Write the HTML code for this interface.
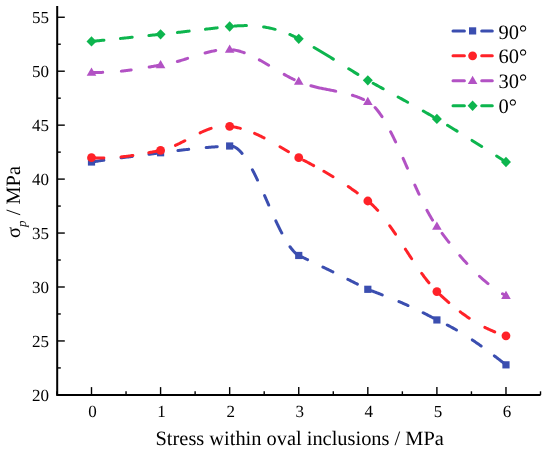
<!DOCTYPE html>
<html><head><meta charset="utf-8"><style>
html,body{margin:0;padding:0;background:#fff;}
body{width:550px;height:454px;overflow:hidden;}
svg{display:block;will-change:transform;}
text{font-family:"Liberation Serif",serif;fill:#000;text-rendering:geometricPrecision;}
.tl{font-size:17px;}
.lg{font-size:20.5px;}
.ti{font-size:20.4px;}
.sub{font-style:italic;font-size:13px;}
</style></head><body>
<svg width="550" height="454" viewBox="0 0 550 454">
<rect width="550" height="454" fill="#fff"/>
<path d="M91.50,162.00 L92.45,161.86 L93.40,161.71 L94.35,161.57 L95.30,161.43 L96.25,161.29 L97.21,161.15 L98.16,161.01 L99.11,160.87 L100.06,160.73 L101.01,160.60 L101.96,160.46 L102.92,160.33 L103.87,160.19 M121.11,157.85 L122.04,157.73 L122.96,157.61 L123.89,157.49 L124.81,157.37 L125.74,157.25 L126.66,157.13 L127.59,157.01 L128.52,156.89 L129.44,156.77 L130.37,156.65 L131.29,156.53 L132.22,156.42 M148.98,154.27 L149.91,154.15 L150.85,154.03 L151.78,153.91 L152.72,153.78 L153.65,153.66 L154.58,153.54 L155.52,153.42 L156.45,153.30 L157.38,153.17 L158.32,153.05 L159.25,152.93 L160.19,152.80 M177.94,150.53 L178.92,150.42 L179.89,150.30 L180.87,150.18 L181.84,150.07 L182.82,149.95 L183.79,149.84 L184.77,149.73 L185.74,149.62 L186.72,149.51 L187.69,149.40 L188.67,149.29 M206.18,147.56 L207.10,147.48 L208.03,147.40 L208.95,147.32 L209.87,147.25 L210.79,147.17 L211.71,147.10 L212.64,147.03 L213.56,146.96 L214.48,146.89 L215.40,146.83 L216.33,146.76 L217.25,146.70 M233.37,146.49 L234.24,146.83 L235.09,147.25 L235.90,147.72 L236.69,148.24 L237.44,148.80 L238.17,149.40 L238.88,150.03 L239.56,150.67 L240.22,151.35 L240.86,152.03 L241.49,152.74 L242.09,153.46 M252.38,169.75 L252.83,170.60 L253.27,171.45 L253.70,172.30 L254.14,173.16 L254.57,174.01 L254.99,174.87 L255.42,175.73 L255.84,176.59 L256.26,177.45 L256.67,178.32 L257.08,179.18 L257.50,180.05 M264.57,195.62 L264.95,196.47 L265.32,197.33 L265.70,198.19 L266.08,199.04 L266.46,199.90 L266.83,200.76 L267.21,201.62 L267.59,202.47 L267.96,203.33 L268.34,204.19 L268.72,205.04 M275.85,220.91 L276.26,221.79 L276.67,222.66 L277.08,223.53 L277.50,224.40 L277.92,225.27 L278.33,226.14 L278.76,227.01 L279.18,227.87 L279.61,228.74 L280.04,229.60 L280.47,230.46 L280.91,231.32 L281.35,232.18 L281.79,233.03 M290.01,246.75 L290.58,247.53 L291.17,248.29 L291.76,249.05 L292.38,249.80 L293.01,250.53 L293.65,251.25 L294.32,251.94 L295.01,252.62 L295.72,253.27 L296.46,253.90 L297.22,254.48 L298.02,255.03 L298.85,255.52 L299.72,255.94 L300.59,256.35 L301.46,256.77 L302.33,257.19 L303.20,257.60 L304.07,258.02 L304.94,258.43 L305.82,258.85 L306.69,259.26 L307.56,259.68 M322.89,267.03 L323.72,267.43 L324.55,267.83 L325.39,268.24 L326.22,268.64 L327.05,269.04 L327.88,269.45 L328.71,269.85 L329.54,270.26 L330.38,270.67 L331.21,271.07 L332.04,271.48 L332.87,271.89 M347.82,279.32 L348.69,279.76 L349.56,280.20 L350.43,280.63 L351.30,281.07 L352.17,281.50 L353.04,281.94 L353.91,282.38 L354.78,282.81 L355.65,283.25 L356.52,283.68 L357.39,284.12 M371.69,290.80 L372.57,291.14 L373.45,291.48 L374.33,291.82 L375.20,292.16 L376.08,292.49 L376.96,292.83 L377.84,293.17 L378.72,293.51 L379.60,293.85 L380.48,294.19 L381.36,294.53 L382.23,294.86 M398.94,301.58 L399.85,301.96 L400.76,302.35 L401.67,302.74 L402.58,303.13 L403.49,303.53 L404.39,303.92 L405.30,304.32 L406.20,304.72 L407.11,305.13 L408.01,305.53 M423.17,312.76 L424.01,313.18 L424.84,313.60 L425.67,314.03 L426.50,314.45 L427.33,314.88 L428.16,315.31 L428.99,315.74 L429.82,316.17 L430.64,316.60 L431.47,317.04 L432.30,317.47 L433.12,317.91 M447.26,324.96 L448.10,325.40 L448.95,325.85 L449.79,326.30 L450.63,326.75 L451.47,327.20 L452.30,327.66 L453.14,328.13 L453.97,328.59 L454.80,329.06 L455.63,329.54 L456.46,330.01 M472.31,339.93 L473.11,340.48 L473.92,341.02 L474.72,341.57 L475.52,342.12 L476.32,342.67 L477.12,343.23 L477.92,343.78 L478.72,344.34 L479.51,344.90 L480.31,345.47 L481.10,346.03 M494.36,355.84 L495.14,356.44 L495.92,357.03 L496.70,357.63 L497.47,358.23 L498.25,358.83 L499.02,359.43 L499.80,360.03 L500.57,360.63 L501.35,361.23 L502.12,361.83 L502.89,362.43 L503.67,363.04 L504.44,363.64 L505.21,364.25 L505.98,364.85" fill="none" stroke="#3b4eb0" stroke-width="3.0" stroke-linecap="round" stroke-linejoin="round"/>
<rect x="87.90" y="158.40" width="7.20" height="7.20" fill="#3b4eb0"/>
<rect x="156.98" y="149.15" width="7.20" height="7.20" fill="#3b4eb0"/>
<rect x="226.06" y="142.40" width="7.20" height="7.20" fill="#3b4eb0"/>
<rect x="295.14" y="251.87" width="7.20" height="7.20" fill="#3b4eb0"/>
<rect x="364.22" y="285.70" width="7.20" height="7.20" fill="#3b4eb0"/>
<rect x="433.30" y="316.34" width="7.20" height="7.20" fill="#3b4eb0"/>
<rect x="502.38" y="361.25" width="7.20" height="7.20" fill="#3b4eb0"/>
<path d="M91.50,157.70 L92.45,157.75 L93.41,157.79 L94.36,157.83 L95.31,157.86 L96.27,157.88 L97.22,157.91 L98.17,157.92 L99.13,157.94 L100.08,157.94 L101.03,157.95 L101.99,157.95 L102.94,157.94 L103.90,157.93 M121.06,156.93 L122.05,156.83 L123.03,156.72 L124.02,156.61 L125.00,156.50 L125.99,156.38 L126.97,156.26 L127.96,156.13 L128.94,156.00 L129.92,155.87 L130.91,155.73 L131.89,155.59 L132.87,155.45 M148.83,152.70 L149.76,152.52 L150.68,152.35 L151.61,152.17 L152.53,151.99 L153.45,151.81 L154.38,151.63 L155.30,151.44 L156.23,151.26 L157.15,151.08 L158.07,150.90 L159.00,150.71 L159.92,150.53 M175.44,145.37 L176.31,144.97 L177.17,144.56 L178.04,144.15 L178.89,143.74 L179.75,143.31 L180.61,142.89 L181.46,142.46 L182.31,142.03 L183.16,141.59 L184.00,141.15 L184.85,140.71 M200.14,132.84 L201.04,132.41 L201.94,132.00 L202.84,131.59 L203.75,131.19 L204.66,130.80 L205.58,130.42 L206.50,130.05 L207.42,129.69 L208.35,129.34 L209.28,129.00 L210.22,128.67 L211.16,128.36 M229.29,126.30 L230.22,126.41 L231.16,126.52 L232.09,126.65 L233.02,126.79 L233.95,126.94 L234.88,127.11 L235.80,127.29 L236.72,127.48 L237.64,127.68 L238.56,127.90 L239.47,128.12 L240.39,128.36 M254.60,133.41 L255.48,133.79 L256.35,134.18 L257.22,134.57 L258.08,134.97 L258.95,135.38 L259.81,135.79 L260.67,136.21 L261.53,136.63 L262.38,137.05 L263.23,137.48 L264.08,137.92 M279.99,146.75 L280.84,147.25 L281.68,147.74 L282.53,148.24 L283.37,148.74 L284.21,149.24 L285.06,149.73 L285.90,150.23 L286.75,150.73 L287.59,151.23 L288.43,151.73 M303.69,160.29 L304.53,160.72 L305.36,161.16 L306.20,161.60 L307.03,162.04 L307.86,162.48 L308.69,162.92 L309.52,163.36 L310.35,163.81 L311.18,164.25 L312.01,164.70 L312.84,165.15 L313.67,165.60 M323.89,171.29 L324.72,171.77 L325.56,172.25 L326.39,172.74 L327.22,173.22 L328.05,173.71 L328.88,174.20 L329.71,174.70 L330.54,175.19 L331.37,175.69 L332.19,176.19 L333.01,176.69 M348.21,186.51 L348.97,187.04 L349.73,187.56 L350.49,188.09 L351.25,188.62 L352.01,189.15 L352.76,189.69 L353.52,190.22 L354.27,190.76 L355.02,191.30 L355.77,191.84 L356.52,192.39 L357.26,192.93 M369.62,202.45 L370.34,203.06 L371.05,203.68 L371.75,204.32 L372.43,204.96 L373.11,205.61 L373.79,206.27 L374.45,206.94 L375.11,207.61 L375.76,208.29 L376.40,208.98 L377.04,209.67 L377.67,210.37 M389.75,225.79 L390.29,226.55 L390.82,227.31 L391.35,228.07 L391.88,228.83 L392.41,229.59 L392.94,230.35 L393.46,231.12 L393.98,231.88 L394.50,232.65 L395.02,233.42 L395.54,234.19 M405.38,249.14 L405.90,249.95 L406.43,250.75 L406.95,251.55 L407.47,252.35 L408.00,253.16 L408.52,253.96 L409.05,254.76 L409.57,255.56 L410.10,256.36 L410.62,257.16 L411.15,257.97 L411.68,258.76 M421.69,273.36 L422.28,274.16 L422.86,274.96 L423.45,275.76 L424.04,276.55 L424.64,277.35 L425.24,278.14 L425.84,278.92 L426.45,279.71 L427.06,280.49 L427.68,281.26 L428.30,282.04 L428.93,282.81 M440.45,295.01 L441.13,295.66 L441.82,296.30 L442.51,296.94 L443.20,297.58 L443.90,298.22 L444.59,298.85 L445.29,299.48 L445.99,300.11 L446.70,300.74 L447.40,301.36 L448.11,301.98 L448.82,302.60 M460.17,311.78 L460.91,312.33 L461.65,312.89 L462.40,313.43 L463.14,313.98 L463.90,314.52 L464.65,315.06 L465.40,315.59 L466.16,316.12 L466.92,316.64 L467.69,317.17 L468.45,317.68 L469.22,318.20 M484.83,327.34 L485.72,327.79 L486.61,328.23 L487.50,328.66 L488.39,329.08 L489.29,329.50 L490.19,329.92 L491.09,330.32 L492.00,330.72 L492.91,331.12 L493.82,331.50 L494.74,331.88" fill="none" stroke="#ff2228" stroke-width="3.0" stroke-linecap="round" stroke-linejoin="round"/>
<circle cx="91.50" cy="157.70" r="4.4" fill="#ff2228"/>
<circle cx="160.58" cy="150.40" r="4.4" fill="#ff2228"/>
<circle cx="229.66" cy="126.35" r="4.4" fill="#ff2228"/>
<circle cx="298.74" cy="157.70" r="4.4" fill="#ff2228"/>
<circle cx="367.82" cy="201.00" r="4.4" fill="#ff2228"/>
<circle cx="436.90" cy="291.60" r="4.4" fill="#ff2228"/>
<circle cx="505.98" cy="335.86" r="4.4" fill="#ff2228"/>
<path d="M91.50,72.50 L92.43,72.50 L93.37,72.50 L94.30,72.50 L95.23,72.50 L96.17,72.49 L97.10,72.48 L98.03,72.46 L98.97,72.45 L99.90,72.43 L100.83,72.41 L101.77,72.38 L102.70,72.35 M121.35,71.12 L122.34,71.02 L123.32,70.91 L124.31,70.80 L125.29,70.69 L126.27,70.58 L127.26,70.46 L128.24,70.33 L129.22,70.21 L130.20,70.08 L131.18,69.95 M149.15,67.07 L150.08,66.90 L151.01,66.73 L151.93,66.57 L152.86,66.40 L153.79,66.23 L154.71,66.06 L155.64,65.90 L156.57,65.73 L157.49,65.56 L158.42,65.39 L159.35,65.22 L160.27,65.06 M177.39,61.50 L178.32,61.24 L179.26,60.97 L180.19,60.69 L181.12,60.41 L182.06,60.13 L182.99,59.85 L183.91,59.56 L184.84,59.27 L185.77,58.98 L186.70,58.68 L187.62,58.38 M205.11,52.98 L206.06,52.72 L207.02,52.47 L207.98,52.22 L208.94,51.98 L209.91,51.75 L210.87,51.53 L211.84,51.31 L212.81,51.11 L213.78,50.91 L214.75,50.73 L215.73,50.55 M233.34,49.88 L234.27,50.03 L235.20,50.20 L236.12,50.39 L237.04,50.59 L237.95,50.81 L238.87,51.05 L239.77,51.30 L240.68,51.56 L241.58,51.84 L242.47,52.14 L243.36,52.44 L244.25,52.76 M259.34,59.86 L260.20,60.33 L261.04,60.81 L261.89,61.29 L262.74,61.77 L263.58,62.26 L264.42,62.75 L265.26,63.24 L266.10,63.73 L266.93,64.23 L267.77,64.72 L268.61,65.22 M284.19,74.43 L285.01,74.89 L285.83,75.35 L286.66,75.80 L287.49,76.25 L288.32,76.69 L289.15,77.13 L289.99,77.56 L290.83,77.99 L291.67,78.41 L292.51,78.82 L293.36,79.23 L294.22,79.63 M310.89,85.80 L311.83,86.06 L312.78,86.32 L313.72,86.56 L314.67,86.80 L315.62,87.03 L316.57,87.26 L317.52,87.48 L318.47,87.70 L319.43,87.91 L320.38,88.11 L321.34,88.32 L322.29,88.51 L323.25,88.71 L324.21,88.90 L325.17,89.09 L326.12,89.28 L327.08,89.47 L328.04,89.65 L329.00,89.84 L329.96,90.02 L330.92,90.20 L331.88,90.39 L332.84,90.57 L333.80,90.76 L334.76,90.95 L335.72,91.14 M352.41,95.23 L353.29,95.51 L354.17,95.80 L355.04,96.09 L355.91,96.40 L356.78,96.71 L357.65,97.04 L358.51,97.37 L359.37,97.71 L360.22,98.06 L361.07,98.42 L361.92,98.79 L362.76,99.17 L363.60,99.56 M375.08,107.54 L375.72,108.25 L376.35,108.97 L376.96,109.71 L377.56,110.46 L378.15,111.21 L378.73,111.97 L379.30,112.74 L379.86,113.52 L380.42,114.30 L380.96,115.09 L381.49,115.89 L382.02,116.69 M390.64,131.80 L391.06,132.64 L391.49,133.48 L391.91,134.32 L392.33,135.16 L392.75,136.00 L393.17,136.85 L393.58,137.69 L393.99,138.54 L394.40,139.39 L394.81,140.24 L395.22,141.09 L395.62,141.94 M403.12,158.41 L403.51,159.30 L403.91,160.19 L404.30,161.08 L404.69,161.97 L405.08,162.86 L405.47,163.75 L405.86,164.64 L406.26,165.53 L406.65,166.42 L407.04,167.32 L407.43,168.21 M414.84,185.05 L415.22,185.88 L415.59,186.72 L415.97,187.56 L416.35,188.40 L416.73,189.23 L417.11,190.07 L417.49,190.90 L417.87,191.74 L418.25,192.57 L418.64,193.41 L419.02,194.24 M426.94,210.29 L427.38,211.12 L427.83,211.95 L428.28,212.78 L428.74,213.60 L429.20,214.42 L429.66,215.24 L430.13,216.06 L430.60,216.87 L431.08,217.68 L431.57,218.49 L432.05,219.30 L432.55,220.10 M442.10,233.42 L442.67,234.16 L443.23,234.91 L443.80,235.65 L444.37,236.39 L444.94,237.13 L445.51,237.87 L446.08,238.60 L446.65,239.34 L447.22,240.08 L447.80,240.81 L448.37,241.55 L448.95,242.28 M459.78,255.51 L460.42,256.25 L461.05,256.99 L461.69,257.72 L462.33,258.45 L462.97,259.18 L463.62,259.91 L464.26,260.64 L464.91,261.36 L465.57,262.09 L466.22,262.81 L466.88,263.52 M479.47,276.24 L480.16,276.87 L480.86,277.51 L481.56,278.14 L482.26,278.77 L482.97,279.39 L483.68,280.01 L484.39,280.62 L485.11,281.23 L485.83,281.84 L486.55,282.44 L487.28,283.04 L488.01,283.63 M502.51,293.75 L503.37,294.25 L504.24,294.74 L505.11,295.23 L505.98,295.70" fill="none" stroke="#b252c4" stroke-width="3.0" stroke-linecap="round" stroke-linejoin="round"/>
<path d="M91.50,67.50 L96.30,75.70 L86.70,75.70 Z" fill="#b252c4"/>
<path d="M160.58,60.00 L165.38,68.20 L155.78,68.20 Z" fill="#b252c4"/>
<path d="M229.66,44.50 L234.46,52.70 L224.86,52.70 Z" fill="#b252c4"/>
<path d="M298.74,76.60 L303.54,84.80 L293.94,84.80 Z" fill="#b252c4"/>
<path d="M367.82,96.70 L372.62,104.90 L363.02,104.90 Z" fill="#b252c4"/>
<path d="M436.90,221.50 L441.70,229.70 L432.10,229.70 Z" fill="#b252c4"/>
<path d="M505.98,290.70 L510.78,298.90 L501.18,298.90 Z" fill="#b252c4"/>
<path d="M91.50,41.40 L92.46,41.31 L93.41,41.21 L94.37,41.12 L95.33,41.02 L96.28,40.93 L97.24,40.83 L98.20,40.74 L99.16,40.64 L100.11,40.55 L101.07,40.45 L102.03,40.36 L102.98,40.26 L103.94,40.16 M120.45,38.48 L121.43,38.37 L122.41,38.27 L123.39,38.17 L124.37,38.07 L125.34,37.97 L126.32,37.87 L127.30,37.77 L128.28,37.66 L129.26,37.56 L130.23,37.46 L131.21,37.36 L132.19,37.26 M148.90,35.51 L149.86,35.41 L150.82,35.31 L151.78,35.21 L152.74,35.11 L153.71,35.01 L154.67,34.91 L155.63,34.81 L156.59,34.71 L157.55,34.61 L158.51,34.51 L159.48,34.41 L160.44,34.31 M177.44,32.47 L178.41,32.36 L179.39,32.25 L180.37,32.14 L181.34,32.02 L182.32,31.91 L183.30,31.80 L184.28,31.69 L185.25,31.58 L186.23,31.46 L187.21,31.35 L188.18,31.24 L189.16,31.12 M205.45,29.22 L206.43,29.10 L207.40,28.99 L208.38,28.88 L209.36,28.76 L210.33,28.65 L211.31,28.54 L212.29,28.43 L213.26,28.32 L214.24,28.20 L215.22,28.09 L216.19,27.98 L217.17,27.87 M234.68,26.04 L235.66,25.97 L236.64,25.91 L237.62,25.85 L238.60,25.80 L239.58,25.75 L240.57,25.71 L241.55,25.68 L242.53,25.65 L243.51,25.63 L244.50,25.62 L245.48,25.62 L246.46,25.62 M263.60,26.94 L264.57,27.09 L265.54,27.25 L266.51,27.42 L267.48,27.60 L268.44,27.78 L269.41,27.98 L270.37,28.19 L271.33,28.40 L272.28,28.62 L273.24,28.85 L274.19,29.10 L275.14,29.34 M289.86,34.49 L290.74,34.88 L291.62,35.28 L292.50,35.68 L293.37,36.10 L294.24,36.52 L295.11,36.95 L295.97,37.38 L296.83,37.83 L297.69,38.28 L298.54,38.74 L299.39,39.20 L300.24,39.65 M314.09,47.46 L314.93,47.96 L315.77,48.46 L316.62,48.95 L317.46,49.45 L318.30,49.95 L319.14,50.46 L319.98,50.96 L320.81,51.46 L321.65,51.97 L322.49,52.48 L323.33,52.98 L324.16,53.49 L325.00,54.00 L325.83,54.51 L326.66,55.02 L327.50,55.53 L328.33,56.05 L329.16,56.56 L330.00,57.08 L330.83,57.59 L331.66,58.11 L332.49,58.62 L333.32,59.14 M348.76,68.78 L349.59,69.29 L350.41,69.80 L351.24,70.32 L352.07,70.83 L352.89,71.34 L353.72,71.85 L354.55,72.36 L355.38,72.87 L356.21,73.37 L357.04,73.88 L357.87,74.39 M373.17,83.28 L374.00,83.74 L374.83,84.20 L375.67,84.66 L376.50,85.12 L377.33,85.58 L378.16,86.04 L378.99,86.49 L379.83,86.95 L380.66,87.41 L381.49,87.87 L382.32,88.33 L383.16,88.78 M398.15,97.00 L399.01,97.48 L399.87,97.95 L400.73,98.42 L401.59,98.90 L402.45,99.37 L403.31,99.84 L404.17,100.32 L405.03,100.79 L405.89,101.27 L406.75,101.74 L407.61,102.22 M423.30,111.03 L424.13,111.50 L424.95,111.97 L425.78,112.44 L426.60,112.92 L427.43,113.39 L428.25,113.86 L429.07,114.34 L429.90,114.81 L430.72,115.29 L431.54,115.76 L432.36,116.24 L433.18,116.72 M447.52,125.28 L448.32,125.76 L449.12,126.25 L449.91,126.74 L450.71,127.22 L451.51,127.71 L452.30,128.19 L453.10,128.68 L453.89,129.17 L454.69,129.66 L455.49,130.15 L456.28,130.63 L457.08,131.12 M472.03,140.41 L472.83,140.92 L473.64,141.42 L474.44,141.92 L475.25,142.43 L476.05,142.93 L476.85,143.44 L477.66,143.95 L478.46,144.45 L479.27,144.96 L480.07,145.47 L480.87,145.97 L481.68,146.48 M496.61,155.98 L497.39,156.48 L498.18,156.98 L498.96,157.48 L499.74,157.98 L500.52,158.48 L501.30,158.98 L502.08,159.48 L502.86,159.99 L503.64,160.49 L504.42,160.99 L505.20,161.50 L505.98,162.00" fill="none" stroke="#0db54e" stroke-width="3.0" stroke-linecap="round" stroke-linejoin="round"/>
<path d="M91.50,36.25 L96.50,41.40 L91.50,46.55 L86.50,41.40 Z" fill="#0db54e"/>
<path d="M160.58,29.15 L165.58,34.30 L160.58,39.45 L155.58,34.30 Z" fill="#0db54e"/>
<path d="M229.66,21.35 L234.66,26.50 L229.66,31.65 L224.66,26.50 Z" fill="#0db54e"/>
<path d="M298.74,33.70 L303.74,38.85 L298.74,44.00 L293.74,38.85 Z" fill="#0db54e"/>
<path d="M367.82,75.15 L372.82,80.30 L367.82,85.45 L362.82,80.30 Z" fill="#0db54e"/>
<path d="M436.90,113.75 L441.90,118.90 L436.90,124.05 L431.90,118.90 Z" fill="#0db54e"/>
<path d="M505.98,156.85 L510.98,162.00 L505.98,167.15 L500.98,162.00 Z" fill="#0db54e"/>

<path d="M57.20,6 V395.90 M56.20,394.90 H540.6" stroke="#000" stroke-width="2" fill="none"/>
<line x1="57.20" y1="394.90" x2="64.8" y2="394.90" stroke="#000" stroke-width="1.4"/>
<text x="48.9" y="400.80" text-anchor="end" class="tl">20</text>
<line x1="57.20" y1="340.95" x2="64.8" y2="340.95" stroke="#000" stroke-width="1.4"/>
<text x="48.9" y="346.85" text-anchor="end" class="tl">25</text>
<line x1="57.20" y1="287.00" x2="64.8" y2="287.00" stroke="#000" stroke-width="1.4"/>
<text x="48.9" y="292.90" text-anchor="end" class="tl">30</text>
<line x1="57.20" y1="233.05" x2="64.8" y2="233.05" stroke="#000" stroke-width="1.4"/>
<text x="48.9" y="238.95" text-anchor="end" class="tl">35</text>
<line x1="57.20" y1="179.10" x2="64.8" y2="179.10" stroke="#000" stroke-width="1.4"/>
<text x="48.9" y="185.00" text-anchor="end" class="tl">40</text>
<line x1="57.20" y1="125.15" x2="64.8" y2="125.15" stroke="#000" stroke-width="1.4"/>
<text x="48.9" y="131.05" text-anchor="end" class="tl">45</text>
<line x1="57.20" y1="71.20" x2="64.8" y2="71.20" stroke="#000" stroke-width="1.4"/>
<text x="48.9" y="77.10" text-anchor="end" class="tl">50</text>
<line x1="57.20" y1="17.25" x2="64.8" y2="17.25" stroke="#000" stroke-width="1.4"/>
<text x="48.9" y="23.15" text-anchor="end" class="tl">55</text>
<line x1="57.20" y1="367.92" x2="60.8" y2="367.92" stroke="#000" stroke-width="1.4"/>
<line x1="57.20" y1="313.97" x2="60.8" y2="313.97" stroke="#000" stroke-width="1.4"/>
<line x1="57.20" y1="260.02" x2="60.8" y2="260.02" stroke="#000" stroke-width="1.4"/>
<line x1="57.20" y1="206.07" x2="60.8" y2="206.07" stroke="#000" stroke-width="1.4"/>
<line x1="57.20" y1="152.12" x2="60.8" y2="152.12" stroke="#000" stroke-width="1.4"/>
<line x1="57.20" y1="98.17" x2="60.8" y2="98.17" stroke="#000" stroke-width="1.4"/>
<line x1="57.20" y1="44.22" x2="60.8" y2="44.22" stroke="#000" stroke-width="1.4"/>
<line x1="91.50" y1="394.90" x2="91.50" y2="387.1" stroke="#000" stroke-width="1.4"/>
<text x="92.50" y="417.0" text-anchor="middle" class="tl">0</text>
<line x1="160.58" y1="394.90" x2="160.58" y2="387.1" stroke="#000" stroke-width="1.4"/>
<text x="161.58" y="417.0" text-anchor="middle" class="tl">1</text>
<line x1="229.66" y1="394.90" x2="229.66" y2="387.1" stroke="#000" stroke-width="1.4"/>
<text x="230.66" y="417.0" text-anchor="middle" class="tl">2</text>
<line x1="298.74" y1="394.90" x2="298.74" y2="387.1" stroke="#000" stroke-width="1.4"/>
<text x="299.74" y="417.0" text-anchor="middle" class="tl">3</text>
<line x1="367.82" y1="394.90" x2="367.82" y2="387.1" stroke="#000" stroke-width="1.4"/>
<text x="368.82" y="417.0" text-anchor="middle" class="tl">4</text>
<line x1="436.90" y1="394.90" x2="436.90" y2="387.1" stroke="#000" stroke-width="1.4"/>
<text x="437.90" y="417.0" text-anchor="middle" class="tl">5</text>
<line x1="505.98" y1="394.90" x2="505.98" y2="387.1" stroke="#000" stroke-width="1.4"/>
<text x="506.98" y="417.0" text-anchor="middle" class="tl">6</text>
<line x1="56.96" y1="394.90" x2="56.96" y2="391.3" stroke="#000" stroke-width="1.4"/>
<line x1="126.04" y1="394.90" x2="126.04" y2="391.3" stroke="#000" stroke-width="1.4"/>
<line x1="195.12" y1="394.90" x2="195.12" y2="391.3" stroke="#000" stroke-width="1.4"/>
<line x1="264.20" y1="394.90" x2="264.20" y2="391.3" stroke="#000" stroke-width="1.4"/>
<line x1="333.28" y1="394.90" x2="333.28" y2="391.3" stroke="#000" stroke-width="1.4"/>
<line x1="402.36" y1="394.90" x2="402.36" y2="391.3" stroke="#000" stroke-width="1.4"/>
<line x1="471.44" y1="394.90" x2="471.44" y2="391.3" stroke="#000" stroke-width="1.4"/>
<line x1="540.52" y1="394.90" x2="540.52" y2="391.3" stroke="#000" stroke-width="1.4"/>
<path d="M453,30.90 H464.4 M481.7,30.90 H492.3" stroke="#3b4eb0" stroke-width="3.0" stroke-linecap="round"/>
<rect x="469.00" y="27.30" width="7.20" height="7.20" fill="#3b4eb0"/>
<text x="498.6" y="38.50" class="lg">90°</text>
<path d="M453,55.85 H464.4 M481.7,55.85 H492.3" stroke="#ff2228" stroke-width="3.0" stroke-linecap="round"/>
<circle cx="472.60" cy="55.85" r="4.4" fill="#ff2228"/>
<text x="498.6" y="63.45" class="lg">60°</text>
<path d="M453,80.80 H464.4 M481.7,80.80 H492.3" stroke="#b252c4" stroke-width="3.0" stroke-linecap="round"/>
<path d="M472.60,75.80 L477.40,84.00 L467.80,84.00 Z" fill="#b252c4"/>
<text x="498.6" y="88.40" class="lg">30°</text>
<path d="M453,105.75 H464.4 M481.7,105.75 H492.3" stroke="#0db54e" stroke-width="3.0" stroke-linecap="round"/>
<path d="M472.60,100.60 L477.60,105.75 L472.60,110.90 L467.60,105.75 Z" fill="#0db54e"/>
<text x="498.6" y="113.35" class="lg">0°</text>
<text x="299.7" y="445.1" text-anchor="middle" class="ti">Stress within oval inclusions / MPa</text>
<text transform="translate(20.3,202.0) rotate(-90)" text-anchor="middle" class="ti">&#963;<tspan class="sub" dy="6">p</tspan><tspan dy="-6"> / MPa</tspan></text>
</svg>
</body></html>
